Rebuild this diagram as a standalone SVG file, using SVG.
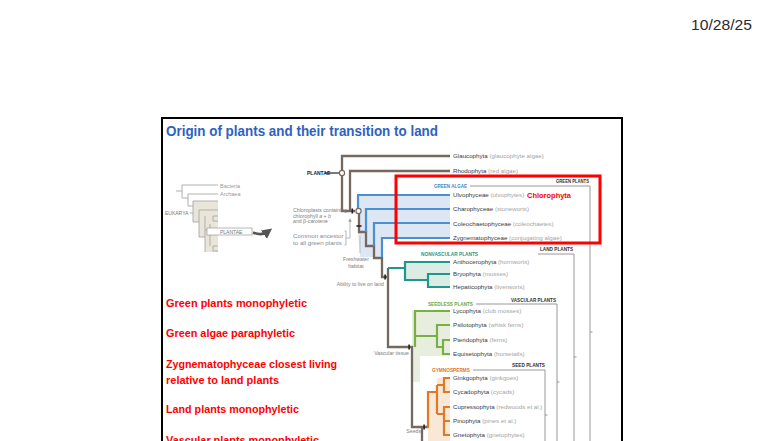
<svg xmlns="http://www.w3.org/2000/svg" width="784" height="441" viewBox="0 0 784 441">
<defs>
<style>
.t{font-family:"Liberation Sans",Arial,sans-serif}
.nm{font-family:"Liberation Sans",Arial,sans-serif;font-size:6.2px;fill:#3a3a3a}
.ds{fill:#a3a3a3}
.cl{font-family:"Liberation Sans",Arial,sans-serif;font-size:5px;font-weight:bold}
.an{font-family:"Liberation Sans",Arial,sans-serif;font-size:5.2px;fill:#808080}
.red{font-family:"Liberation Sans",Arial,sans-serif;font-size:11.5px;font-weight:bold;fill:#ff0000}
.gl{fill:none;stroke:#75695f;stroke-width:2.3}
.bl{fill:none;stroke:#4a90d0;stroke-width:2.2}
.tl{fill:none;stroke:#1f978c;stroke-width:2.2}
.gr{fill:none;stroke:#78b043;stroke-width:2.2}
.or{fill:none;stroke:#e0782a;stroke-width:2.2}
.br{fill:none;stroke:#8c8c8c;stroke-width:0.9}
.sm{fill:none;stroke:#a8a8a8;stroke-width:0.9}
.tick{fill:#222}
</style>
<marker id="ah" viewBox="0 0 10 10" refX="5" refY="5" markerWidth="4" markerHeight="4" orient="auto"><path d="M0,0 L10,5 L0,10 Z" fill="#555"/></marker>
<marker id="ah2" viewBox="0 0 10 10" refX="5" refY="5" markerWidth="5" markerHeight="5" orient="auto"><path d="M0,0 L10,5 L0,10 Z" fill="#999"/></marker>
</defs>
<rect width="784" height="441" fill="#fff"/>
<text class="t" x="691" y="30" font-size="14.5" fill="#2a2a2a" textLength="61" lengthAdjust="spacingAndGlyphs">10/28/25</text>
<!-- slide frame -->
<path d="M162,441 V118 H622 V441" fill="none" stroke="#000" stroke-width="2"/>
<text class="t" x="166" y="136" font-size="14" font-weight="bold" fill="#2e62c0" textLength="272" lengthAdjust="spacingAndGlyphs">Origin of plants and their transition to land</text>

<!-- small domain tree -->
<g id="mini-tree">
<polygon points="193,201 218,201 218,252 205,252 205,237 199,237 199,222 193,222" fill="#e9e5d8"/>
<path class="sm" d="M176,191 H182 M182,185 V198 M182,185 H218 M182,198 H188 M188,194 V206 M188,194 H218 M188,206 H193 M190,213 H193 M218,201 H193 V222 M218,210 H199 V237 M199,222 H193 M205,216 V252 M218,216 H213 V221 H218 M205,230 H210 M210,224 V246 M218,246 H213 V251 H218 M199,237 H205"/>
<rect x="207" y="228" width="45" height="7" fill="#fff" stroke="#999" stroke-width="0.7"/>
<text class="t" x="220" y="233.6" font-size="5" fill="#777">PLANTAE</text>
<text class="t" x="220" y="187.5" font-size="5.5" fill="#999">Bacteria</text>
<text class="t" x="220" y="196" font-size="5.5" fill="#999">Archaea</text>
<text class="t" x="165" y="214.8" font-size="5" fill="#777">EUKARYA</text>
<path d="M253,232.5 C259,235 264,234.5 268,231.5" fill="none" stroke="#555" stroke-width="2.6" marker-end="url(#ah)"/>
</g>

<!-- shading -->
<g id="shading">
<polygon points="358,195 450,195 450,238 382,238 382,257 360,257 358,232" fill="#dde6f3"/>
<polygon points="405,262 450,262 450,287 428,287 428,280 405,280" fill="#dcebe3"/>
<polygon points="412,311 450,311 450,356 420,356 420,382 412,382" fill="#e8eedd"/>
<polygon points="437,378 450,378 450,441 428,441 428,392 437,392" fill="#f9e8d6"/>
</g>

<!-- connectors -->
<g id="connectors">
<path class="gl" d="M450,156 H342 V211 H355"/>
<path class="gl" d="M450,171 H350 V211"/>
<path d="M325,173 H339" stroke="#333" stroke-width="1.3"/>
<path class="gl" d="M359,214 V232 H366 V246 H374 V258 H382 V277 H388"/>
<path class="gl" d="M388,268 V347 H412 V427 H428"/>
<path class="gl" d="M422,427 V441"/>
<path class="bl" d="M450,195 H358 V208"/>
<path class="bl" d="M450,209 H366 V232"/>
<path class="bl" d="M450,223 H374 V246"/>
<path class="bl" d="M450,238 H382 V257"/>
<path class="tl" d="M450,262 H405 V280 H428 M388,268 H405 M450,274 H428 V287 H450"/>
<path class="gr" d="M450,311 H415 V347 M415,336 H437 M450,325 H437 V347 H443 M450,340 H443 V354 H450"/>
<path class="or" d="M428,428 V392 H437 M437,385 V414 M437,385 H444 M450,378 H444 V392 H450 M437,414 H444 M450,407 H444 V435 H450 M444,421 H450"/>
<circle cx="342" cy="173" r="2.6" fill="#fff" stroke="#75695f" stroke-width="1.2"/>
<circle cx="358.5" cy="211" r="2.6" fill="#fff" stroke="#75695f" stroke-width="1.2"/>
<rect class="tick" x="351.5" y="208.5" width="1.6" height="5"/>
<rect class="tick" x="356.5" y="225.2" width="5" height="1.6"/>
<rect class="tick" x="384.3" y="274.5" width="1.6" height="5"/>
<rect class="tick" x="408.3" y="344.5" width="1.6" height="5"/>
<rect class="tick" x="423.3" y="424.5" width="1.6" height="5"/>
<path d="M346,231 V245 M344.5,231 H346 M344.5,245 H346 M346,238 H350 V220" fill="none" stroke="#999" stroke-width="0.7" marker-end="url(#ah2)"/>
<path d="M360,236 V253" stroke="#aaa" stroke-width="0.7"/>
<path class="br" d="M470,186 H590 V441 M590,332 H592.5"/>
<path class="br" d="M538,254 H574 V441 M574,357 H576.5"/>
<path class="br" d="M476,304 H557 V441 M557,382 H559.5"/>
<path class="br" d="M473,370 H545 V441 M545,415 H547.5"/>
</g>

<!-- annotations -->
<g id="annotations">
<text class="t" x="307" y="175" font-size="5" font-weight="bold" fill="#222">PLANTAE</text>
<text class="an" x="293" y="212">Chloroplasts containing</text>
<text class="an" x="293" y="217.5">chlorophyll <tspan font-style="italic">a</tspan> + <tspan font-style="italic">b</tspan></text>
<text class="an" x="293" y="223">and β-carotene</text>
<text class="t" x="293" y="237.5" font-size="6.2" fill="#8a8a8a">Common ancestor</text>
<text class="t" x="293" y="244.5" font-size="6.2" fill="#8a8a8a">to all green plants</text>
<text class="an" x="356" y="261" text-anchor="middle">Freshwater</text>
<text class="an" x="356" y="267.5" text-anchor="middle">habitat</text>
<text class="an" x="384" y="286" text-anchor="end">Ability to live on land</text>
<text class="an" x="409" y="355" text-anchor="end">Vascular tissue</text>
<text class="an" x="421" y="433" text-anchor="end">Seeds</text>
</g>

<!-- clade labels -->
<g id="clades">
<text class="cl" x="434" y="187.8" fill="#3d8bc9" textLength="33" lengthAdjust="spacingAndGlyphs">GREEN ALGAE</text>
<text class="cl" x="556" y="182.8" fill="#333" textLength="33" lengthAdjust="spacingAndGlyphs">GREEN PLANTS</text>
<text class="cl" x="421" y="255.8" fill="#1f978c" textLength="57" lengthAdjust="spacingAndGlyphs">NONVASCULAR PLANTS</text>
<text class="cl" x="540" y="250.8" fill="#333" textLength="33" lengthAdjust="spacingAndGlyphs">LAND PLANTS</text>
<text class="cl" x="428" y="305.8" fill="#6fa840" textLength="45" lengthAdjust="spacingAndGlyphs">SEEDLESS PLANTS</text>
<text class="cl" x="511" y="301.8" fill="#333" textLength="45" lengthAdjust="spacingAndGlyphs">VASCULAR PLANTS</text>
<text class="cl" x="432" y="371.8" fill="#e0782a" textLength="38" lengthAdjust="spacingAndGlyphs">GYMNOSPERMS</text>
<text class="cl" x="512" y="366.8" fill="#333" textLength="33" lengthAdjust="spacingAndGlyphs">SEED PLANTS</text>
</g>

<!-- taxa -->
<g id="taxa">
<g id="glaucophyta"><text class="nm" x="453" y="158.2">Glaucophyta <tspan class="ds">(glaucophyte algae)</tspan></text></g>
<g id="rhodophyta"><text class="nm" x="453" y="173.2">Rhodophyta <tspan class="ds">(red algae)</tspan></text></g>
<g id="ulvophyceae"><text class="nm" x="453" y="197.2">Ulvophyceae <tspan class="ds">(ulvophytes)</tspan></text></g>
<g id="charophyceae"><text class="nm" x="453" y="211.2">Charophyceae <tspan class="ds">(stoneworts)</tspan></text></g>
<g id="coleochaetophyceae"><text class="nm" x="453" y="225.7">Coleochaetophyceae <tspan class="ds">(coleochaetes)</tspan></text></g>
<g id="zygnematophyceae"><text class="nm" x="453" y="239.8">Zygnematophyceae <tspan class="ds">(conjugating algae)</tspan></text></g>
<g id="anthocerophyta"><text class="nm" x="453" y="264.2">Anthocerophyta <tspan class="ds">(hornworts)</tspan></text></g>
<g id="bryophyta"><text class="nm" x="453" y="276.2">Bryophyta <tspan class="ds">(mosses)</tspan></text></g>
<g id="hepaticophyta"><text class="nm" x="453" y="289.2">Hepaticophyta <tspan class="ds">(liverworts)</tspan></text></g>
<g id="lycophyta"><text class="nm" x="453" y="313.2">Lycophyta <tspan class="ds">(club mosses)</tspan></text></g>
<g id="psilotophyta"><text class="nm" x="453" y="327.2">Psilotophyta <tspan class="ds">(whisk ferns)</tspan></text></g>
<g id="pteridophyta"><text class="nm" x="453" y="342.2">Pteridophyta <tspan class="ds">(ferns)</tspan></text></g>
<g id="equisetophyta"><text class="nm" x="453" y="356.2">Equisetophyta <tspan class="ds">(horsetails)</tspan></text></g>
<g id="ginkgophyta"><text class="nm" x="453" y="380.2">Ginkgophyta <tspan class="ds">(ginkgoes)</tspan></text></g>
<g id="cycadophyta"><text class="nm" x="453" y="394.2">Cycadophyta <tspan class="ds">(cycads)</tspan></text></g>
<g id="cupressophyta"><text class="nm" x="453" y="409.2">Cupressophyta <tspan class="ds">(redwoods et al.)</tspan></text></g>
<g id="pinophyta"><text class="nm" x="453" y="423.2">Pinophyta <tspan class="ds">(pines et al.)</tspan></text></g>
<g id="gnetophyta"><text class="nm" x="453" y="437.2">Gnetophyta <tspan class="ds">(gnetophytes)</tspan></text></g>
</g>

<!-- red highlight -->
<g id="highlight">
<rect x="396" y="176" width="204" height="67" fill="none" stroke="#ff0000" stroke-width="3"/>
<text class="t" x="527" y="198.3" font-size="7.5" font-weight="bold" fill="#ff0000" textLength="44" lengthAdjust="spacingAndGlyphs">Chlorophyta</text>
</g>

<g id="notes">
<text class="red" x="166" y="307" textLength="141" lengthAdjust="spacingAndGlyphs">Green plants monophyletic</text>
<text class="red" x="166" y="337.3" textLength="129" lengthAdjust="spacingAndGlyphs">Green algae paraphyletic</text>
<text class="red" x="166" y="368.3" textLength="171" lengthAdjust="spacingAndGlyphs">Zygnematophyceae closest living</text>
<text class="red" x="166" y="383.8" textLength="113" lengthAdjust="spacingAndGlyphs">relative to land plants</text>
<text class="red" x="166" y="413.3" textLength="133" lengthAdjust="spacingAndGlyphs">Land plants monophyletic</text>
<text class="red" x="166" y="444.3" textLength="153" lengthAdjust="spacingAndGlyphs">Vascular plants monophyletic</text>
</g>
</svg>
